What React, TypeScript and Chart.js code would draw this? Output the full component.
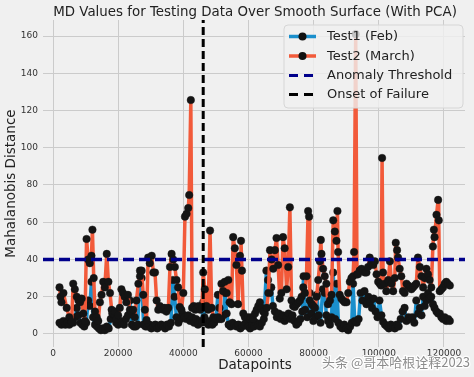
import { useEffect, useRef } from 'react';
import { Chart, registerables } from 'chart.js';

Chart.register(...registerables);

const FONT = '"DejaVu Sans", "Noto Sans", sans-serif';
const BG = '#f0f0f0';
const BLUE = '#1a8fcc';
const RED = '#f25a3a';
const NAVY = '#00008b';

const TITLE = 'MD Values for Testing Data Over Smooth Surface (With PCA)';
const X_LABEL = 'Datapoints';
const Y_LABEL = 'Mahalanobis Distance';
const SERIES_NAMES = ['Test1 (Feb)', 'Test2 (March)', 'Anomaly Threshold', 'Onset of Failure'];
const WATERMARK = '头条 @哥本哈根诠释2023';

const X_MIN = -3070;
const X_MAX = 126450;
const Y_MIN = -7;
const Y_MAX = 168.6;
const X_TICKS = [0, 20000, 40000, 60000, 80000, 100000, 120000];
const Y_TICKS = [0, 20, 40, 60, 80, 100, 120, 140, 160];
const THRESHOLD = 40;
const ONSET = 46100;

const TEST2_X = [
  2000, 2300, 2600, 3200, 4200, 5000, 5700, 6200, 6700, 7300,
  7800, 8300, 8800, 9300, 9800, 10300, 10800, 11300, 11800, 12100,
  12500, 12900, 13400, 13900, 14400, 14900, 15400, 15900, 16500, 17000,
  17500, 18000, 18500, 19000, 19500, 20000, 20500, 21000, 21500, 22000,
  22500, 23000, 23600, 24100, 24600, 25100, 25600, 26200, 26700, 27200,
  27700, 28200, 28700, 29200, 29700, 30300, 30800, 31300, 31800, 32300,
  32800, 33300, 33800, 34300, 34800, 35400, 35900, 36400, 36900, 37400,
  37900, 38400, 38900, 39400, 40000, 40500, 41000, 41500, 41800, 42300,
  42700, 43200, 43700, 44200, 44700, 45200, 45700, 46100, 46600, 47100,
  47600, 48200, 48700, 49200, 49700, 50200, 50700, 51200, 51700, 52200,
  52700, 53300, 53800, 54200, 54800, 55300, 55800, 56300, 56800, 57400,
  57700, 58000, 58400, 58900, 59400, 59900, 60400, 60900, 61400, 62000,
  62500, 63000, 63500, 64000, 64500, 65000, 65600, 66100, 66600, 67100,
  67600, 68100, 68600, 69100, 69600, 70100, 70600, 71100, 71700, 72200,
  72700, 73200, 73700, 74200, 74800, 75300, 75800, 76300, 76800, 77300,
  77800, 78300, 78600, 78800, 79400, 79900, 80400, 80900, 81400, 81900,
  82200, 82400, 82900, 83400, 83900, 84400, 85000, 85500, 86000, 86500,
  87000, 87300, 87500, 88000, 88500, 89000, 89500, 90100, 90600, 91100,
  91600, 92100, 92400, 92900, 93300, 93600, 94100, 94700, 95200, 95700,
  96200, 96700, 97200, 97700, 98300, 98800, 99300, 99800, 100300, 100700,
  101000, 101300, 101800, 102300, 102900, 103400, 103900, 104400, 104900, 105200,
  105600, 105900, 106400, 106900, 107400, 107900, 108500, 109000, 109500, 110000,
  110500, 111000, 111500, 112000, 112600, 113100, 113600, 114100, 114600, 115100,
  115600, 116100, 116600, 116900, 117100, 117700, 118200, 118400, 118700, 119200,
  119700, 120200, 120700, 121200, 121800,
];
const TEST2_Y = [
  25, 20, 17, 22, 14, 9, 6.5, 27, 24, 20,
  18, 17, 19, 11, 7, 51, 40, 38, 42, 56,
  30, 12, 9, 7, 17, 21, 28, 25, 43, 28,
  22, 13, 11, 12, 8, 10, 14, 24, 22, 20,
  17, 21, 13, 12, 13, 9, 18, 27, 31, 34,
  21, 13, 7.5, 41, 38, 42, 33, 33, 18, 13,
  15, 14, 13, 14, 12, 14, 36, 43, 40, 36,
  29, 25, 14.5, 13, 22, 63, 64.5, 67.6, 74.6, 125.6,
  14, 15, 13, 14, 15, 13, 14, 33, 24, 15,
  13, 55.5, 14, 9, 8, 8, 9, 8, 27, 23,
  28, 22, 29, 17, 16, 52, 46, 37, 16, 42,
  50, 34, 11, 9, 8, 9, 8, 9, 8, 11,
  13, 15, 17, 14, 12, 11, 14, 22, 45, 40,
  35, 45, 51.5, 37, 19, 22, 52, 46, 24, 36,
  68, 18, 15, 14.5, 16, 17, 18, 20, 25, 22,
  31, 66, 63, 18, 16, 15, 14, 20, 29, 39,
  50.5, 43, 35, 31, 27, 16, 18, 21, 61, 55,
  50, 66, 44, 21, 19, 18, 17, 17, 22, 28,
  30, 31, 44, 161, 32, 32, 34, 35, 34, 33,
  33, 36, 41, 38, 37, 39, 32, 28, 27, 26,
  94.5, 33, 27, 23, 29, 39, 27, 23, 30, 49,
  45, 41, 35, 31, 23, 22, 27, 26, 25, 24,
  25, 26, 27, 41, 36, 31, 25, 30, 35, 32,
  29, 25, 47, 56, 52, 64, 72, 61, 23, 24,
  25, 27, 28, 27, 26,
];

const TEST1_X = [
  2000, 2600, 3200, 3800, 4400, 5000, 5600, 6200, 6800, 7300,
  7800, 8400, 9000, 9600, 10200, 10800, 11300, 11800, 12300, 12900,
  13500, 14100, 14700, 15300, 15900, 16500, 17100, 17700, 18200, 18800,
  19400, 20000, 20600, 21200, 21800, 22400, 23000, 23600, 24200, 24800,
  25400, 26000, 26700, 27200, 27800, 28400, 29000, 29600, 30200, 30800,
  31400, 32000, 32600, 33200, 33800, 34400, 35000, 35600, 36200, 36800,
  37300, 37900, 38500, 39100, 39700, 40300, 40900, 41500, 42100, 42700,
  43300, 43900, 44500, 45100, 45700, 46100, 46500, 47100, 47700, 48300,
  48900, 49500, 50000, 50600, 51100, 51700, 52300, 52800, 53300, 53900,
  54500, 55100, 55700, 56300, 56900, 57500, 58100, 58700, 59300, 59900,
  60500, 61100, 61700, 62300, 62900, 63500, 64100, 64700, 65500, 66000,
  66500, 67000, 67500, 68100, 68700, 69300, 69900, 70500, 71100, 71700,
  72300, 72900, 73500, 74100, 74700, 75300, 75900, 76500, 76900, 77400,
  78000, 78800, 79300, 79900, 80500, 81000, 81500, 82100, 82800, 83400,
  83900, 84400, 85000, 85500, 86000, 86600, 87100, 87600, 88200, 88800,
  89400, 90000, 90600, 91200, 91700, 92100, 92600, 93200, 93800, 94400,
  95000, 95600, 96200, 96800, 97300, 97900, 98400, 99000, 99600, 100200,
  100800, 101300, 101900, 102500, 103100, 103700, 104300, 104900, 105500, 106100,
  106700, 107300, 107900, 108500, 109100, 109700, 110300, 110900, 111500, 112100,
  112600, 113100, 113600, 114100, 114600, 115100, 115600, 116100, 116600, 117100,
  117700, 118200, 118700, 119200, 119700, 120200, 120700, 121300, 121800,
];
const TEST1_Y = [
  6, 5, 7, 5, 6, 5, 7, 6, 9, 14,
  10, 6, 5, 4, 6, 18, 15, 28, 9, 5,
  4, 3, 2, 3, 2, 4, 3, 8, 11, 10,
  6, 5, 7, 6, 5, 8, 10, 18, 5, 4,
  4, 5, 34, 30, 5, 4, 4, 5, 3, 4,
  5, 3, 4, 5, 4, 3, 5, 4, 6, 29,
  20, 9, 6, 8, 11, 9, 8, 10, 7, 9,
  6, 8, 5, 7, 6, 17, 9, 6, 5, 7,
  5, 6, 8, 21, 14, 8, 10, 22, 11, 5,
  4, 6, 5, 4, 5, 3, 4, 5, 6, 4,
  3, 5, 4, 6, 5, 4, 6, 8, 34, 29,
  22, 25, 15, 12, 9, 11, 8, 10, 7, 9,
  11, 8, 10, 7, 5, 6, 8, 12, 31, 13,
  9, 22, 11, 7, 9, 21, 10, 6, 24, 22,
  10, 7, 5, 9, 33, 8, 27, 6, 4, 3,
  5, 3, 2, 4, 6, 27, 7, 6, 8, 22,
  18, 23, 16, 20, 17, 14, 19, 12, 9, 18,
  10, 6.5, 5, 4, 3, 5, 4, 3, 5, 4,
  8, 12, 14, 7, 9, 8, 9, 6, 18, 11,
  14, 10, 20, 15, 18, 22, 19, 20, 16, 14,
  12, 11, 11, 9, 8, 9, 7, 8, 7,
];

const toPoints = (xs: number[], ys: number[]) => xs.map((x, i) => ({ x, y: ys[i] }));

function drawLegend(ctx: CanvasRenderingContext2D) {
  const bx = 284, by = 25, bw = 179, bh = 83, r = 4;
  ctx.save();
  ctx.beginPath();
  ctx.moveTo(bx + r, by);
  ctx.arcTo(bx + bw, by, bx + bw, by + bh, r);
  ctx.arcTo(bx + bw, by + bh, bx, by + bh, r);
  ctx.arcTo(bx, by + bh, bx, by, r);
  ctx.arcTo(bx, by, bx + bw, by, r);
  ctx.closePath();
  ctx.fillStyle = 'rgba(240,240,240,0.8)';
  ctx.fill();
  ctx.strokeStyle = '#d6d6d6';
  ctx.lineWidth = 1;
  ctx.stroke();

  const rows = [36.5, 56, 75.5, 94.5];
  const hx0 = 289, hx1 = 316, hm = 302.5;
  rows.forEach((y, i) => {
    ctx.save();
    ctx.lineCap = 'butt';
    if (i < 2) {
      ctx.strokeStyle = i === 0 ? BLUE : RED;
      ctx.lineWidth = 3.5;
      ctx.setLineDash([]);
      ctx.beginPath(); ctx.moveTo(hx0, y); ctx.lineTo(hx1, y); ctx.stroke();
      ctx.fillStyle = '#111';
      ctx.beginPath(); ctx.arc(hm, y, 4, 0, Math.PI * 2); ctx.fill();
    } else {
      ctx.strokeStyle = i === 2 ? NAVY : '#000';
      ctx.lineWidth = 3;
      ctx.setLineDash([9, 6]);
      ctx.beginPath(); ctx.moveTo(hx0, y); ctx.lineTo(hx1, y); ctx.stroke();
    }
    ctx.restore();
    ctx.fillStyle = '#222';
    ctx.font = `13px ${FONT}`;
    ctx.textAlign = 'left';
    ctx.textBaseline = 'middle';
    ctx.fillText(SERIES_NAMES[i], 327, y + 0.5);
  });
  ctx.restore();
}

const overlay = {
  id: 'overlay',
  beforeDraw(chart: any) {
    const { ctx } = chart;
    ctx.save();
    ctx.fillStyle = BG;
    ctx.fillRect(0, 0, chart.width, chart.height);
    ctx.restore();
  },
  afterDraw(chart: any) {
    const { ctx, chartArea: a } = chart;
    const cx = (a.left + a.right) / 2;
    ctx.save();
    ctx.fillStyle = '#222';
    ctx.textAlign = 'center';
    ctx.font = `13.4px ${FONT}`;
    ctx.textBaseline = 'alphabetic';
    ctx.fillText(TITLE, cx + 1, 16);

    ctx.font = `13.5px ${FONT}`;
    ctx.textBaseline = 'middle';
    ctx.fillText(X_LABEL, cx + 1, 365);

    ctx.save();
    ctx.translate(11, (a.top + a.bottom) / 2);
    ctx.rotate(-Math.PI / 2);
    ctx.fillText(Y_LABEL, 0, 0);
    ctx.restore();

    drawLegend(ctx);

    ctx.font = `13px "Noto Sans CJK SC", sans-serif`;
    ctx.textAlign = 'left';
    ctx.textBaseline = 'middle';
    ctx.lineWidth = 2.5;
    ctx.strokeStyle = 'rgba(255,255,255,0.9)';
    ctx.strokeText(WATERMARK, 322, 362);
    ctx.fillStyle = 'rgba(120,120,120,0.85)';
    ctx.fillText(WATERMARK, 322, 362);
    ctx.restore();
  },
};

export default function App() {
  const ref = useRef<HTMLCanvasElement>(null);
  useEffect(() => {
    document.body.style.margin = '0';
    document.body.style.background = BG;
    const canvas = ref.current!;
    const seriesStyle = {
      borderWidth: 3.5,
      borderJoinStyle: 'round',
      borderCapStyle: 'round',
      pointRadius: 3.8,
      pointBackgroundColor: '#141414',
      pointBorderColor: '#141414',
      pointBorderWidth: 0.4,
    };
    const chart = new Chart(canvas, {
      type: 'line',
      data: {
        datasets: [
          {
            label: SERIES_NAMES[0],
            data: toPoints(TEST1_X, TEST1_Y),
            borderColor: BLUE,
            order: 3,
            ...seriesStyle,
          },
          {
            label: SERIES_NAMES[1],
            data: toPoints(TEST2_X, TEST2_Y),
            borderColor: RED,
            order: 2,
            ...seriesStyle,
          },
          {
            label: SERIES_NAMES[2],
            data: [{ x: X_MIN, y: THRESHOLD }, { x: X_MAX, y: THRESHOLD }],
            borderColor: NAVY,
            borderWidth: 3.5,
            borderDash: [11, 5],
            pointRadius: 0,
            order: 1,
          },
          {
            label: SERIES_NAMES[3],
            data: [{ x: ONSET, y: Y_MIN }, { x: ONSET, y: Y_MAX }],
            borderColor: '#000',
            borderWidth: 3,
            borderDash: [8, 4],
            pointRadius: 0,
            order: 0,
          },
        ] as any,
      },
      options: {
        animation: false,
        responsive: false,
        events: [],
        layout: { padding: { top: 20, right: 9, left: 0, bottom: 0 } },
        elements: { line: { tension: 0 } },
        plugins: {
          legend: { display: false },
          title: { display: false },
          tooltip: { enabled: false },
        },
        scales: {
          x: {
            type: 'linear',
            min: X_MIN,
            max: X_MAX,
            afterFit: (s: any) => { s.height = 30; },
            afterBuildTicks: (s: any) => { s.ticks = X_TICKS.map((v) => ({ value: v })); },
            grid: { color: '#cbcbcb', lineWidth: 1, drawTicks: false },
            border: { display: false },
            ticks: {
              autoSkip: false,
              maxRotation: 0,
              padding: 1,
              color: '#333',
              font: { family: FONT, size: 9 },
              callback: (v: any) => String(v),
            },
          },
          y: {
            type: 'linear',
            min: Y_MIN,
            max: Y_MAX,
            afterFit: (s: any) => { s.width = 43; },
            afterBuildTicks: (s: any) => { s.ticks = Y_TICKS.map((v) => ({ value: v })); },
            grid: { color: '#cbcbcb', lineWidth: 1, drawTicks: false },
            border: { display: false },
            ticks: {
              autoSkip: false,
              padding: 5,
              color: '#333',
              font: { family: FONT, size: 9 },
              callback: (v: any) => String(v),
            },
          },
        },
      },
      plugins: [overlay],
    });
    return () => chart.destroy();
  }, []);
  return (
    <div style={{ width: 474, height: 377, background: BG }}>
      <canvas ref={ref} width={474} height={377} style={{ display: 'block', width: 474, height: 377 }} />
    </div>
  );
}
